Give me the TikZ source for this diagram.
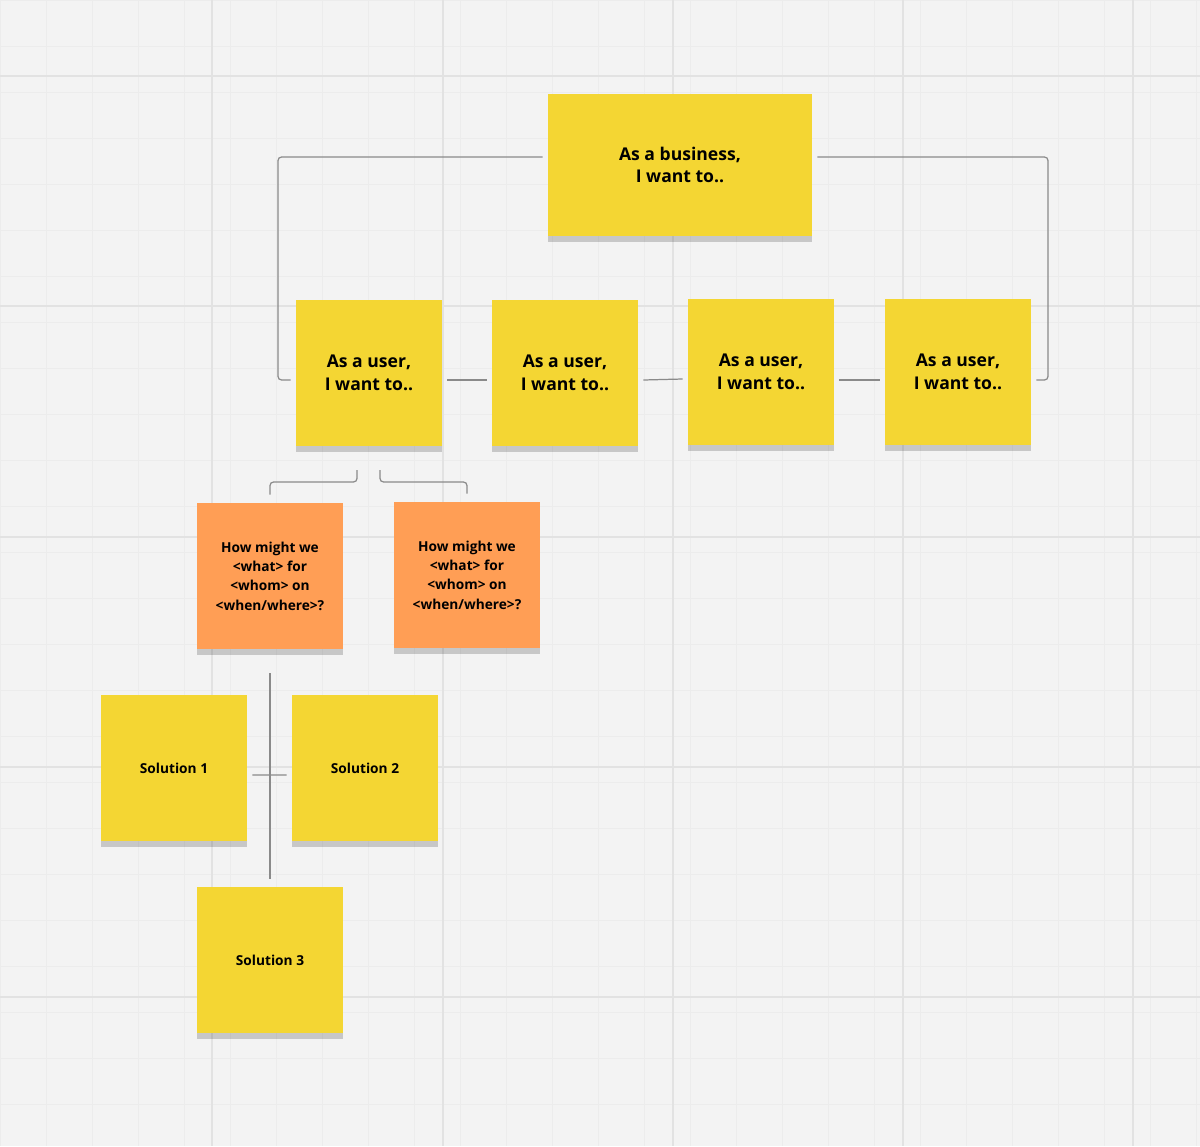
\documentclass[tikz,border=0pt]{standalone}
\usepackage{fontspec}
\setmainfont{Open Sans}
\definecolor{board}{HTML}{F3F3F3}
\definecolor{gridmajor}{HTML}{E2E2E2}
\definecolor{gridminor}{HTML}{ECECEC}
\definecolor{sticky}{HTML}{F4D633}
\definecolor{hmw}{HTML}{FF9E55}
\definecolor{wire}{HTML}{8A8A8A}
\tikzset{
  note/.style={fill=sticky,minimum width=2.92cm,minimum height=2.92cm,align=center,
    font=\fontsize{10}{13}\selectfont\bfseries,
    preaction={fill=black,opacity=0.18,transform canvas={yshift=-0.12cm}}},
  bignote/.style={note,minimum width=5.28cm,minimum height=2.86cm},
  hmwnote/.style={note,fill=hmw,font=\fontsize{7.8}{11}\selectfont\bfseries},
  solnote/.style={note,font=\fontsize{7.8}{10}\selectfont\bfseries},
  link/.style={draw=wire,line width=0.7pt,rounded corners=2pt}
}
\begin{document}
\begin{tikzpicture}[x=0.02cm,y=-0.02cm]
  \fill[board] (0,0) rectangle (1200,1146);
  \useasboundingbox (0,0) rectangle (1200,1146);
  \foreach \g in {0,46,...,1200} \draw[gridminor,line width=0.4pt] (\g,0) -- (\g,1146);
  \foreach \g in {0,46,...,1146} \draw[gridminor,line width=0.4pt] (0,\g) -- (1200,\g);
  \foreach \g in {212,443,673,903,1133} \draw[gridmajor,line width=0.8pt] (\g,0) -- (\g,1146);
  \foreach \g in {76,306,537,767,997} \draw[gridmajor,line width=0.8pt] (0,\g) -- (1200,\g);

  \node (business) at (680,165) [bignote] {As a business,\\I want to..};
  \node (userA) at (369,373) [note] {As a user,\\I want to..};
  \node (userB) at (565,373) [note] {As a user,\\I want to..};
  \node (userC) at (761,372) [note] {As a user,\\I want to..};
  \node (userD) at (958,372) [note] {As a user,\\I want to..};
  \node (hmwA) at (270,576) [hmwnote] {How might we\\<what> for\\<whom> on\\<when/where>?};
  \node (hmwB) at (467,575) [hmwnote] {How might we\\<what> for\\<whom> on\\<when/where>?};
  \node (solA) at (174,768) [solnote] {Solution 1};
  \node (solB) at (365,768) [solnote] {Solution 2};
  \node (solC) at (270,960) [solnote] {Solution 3};

  \coordinate (hub) at (270,775);
  \draw[link] ([xshift=-0.1cm,yshift=0.16cm]business.west) -| (278,380) -- ([xshift=-0.1cm]userA.west |- 0,380);
  \draw[link] ([xshift=0.1cm,yshift=0.16cm]business.east) -| (1048,380) -- ([xshift=0.1cm]userD.east |- 0,380);
  \draw[link] ([xshift=0.1cm,yshift=-0.14cm]userA.east) -- ([xshift=-0.1cm,yshift=-0.14cm]userB.west);
  \draw[link] ([xshift=0.1cm,yshift=-0.14cm]userB.east) -- ([xshift=-0.1cm,yshift=-0.14cm]userC.west);
  \draw[link] ([xshift=0.1cm,yshift=-0.16cm]userC.east) -- ([xshift=-0.1cm,yshift=-0.16cm]userD.west);
  \draw[link] (357,470) -- (357,482) -| ([yshift=0.16cm]hmwA.north);
  \draw[link] (380,470) -- (380,482) -| ([yshift=0.16cm]hmwB.north);
  \draw[link] ([yshift=-0.48cm]hmwA.south) -- ([yshift=0.16cm]solC.north);
  \draw[link] ([xshift=0.1cm,yshift=-0.14cm]solA.east) -- (hub) -- ([xshift=-0.1cm,yshift=-0.14cm]solB.west);
\end{tikzpicture}
\end{document}
